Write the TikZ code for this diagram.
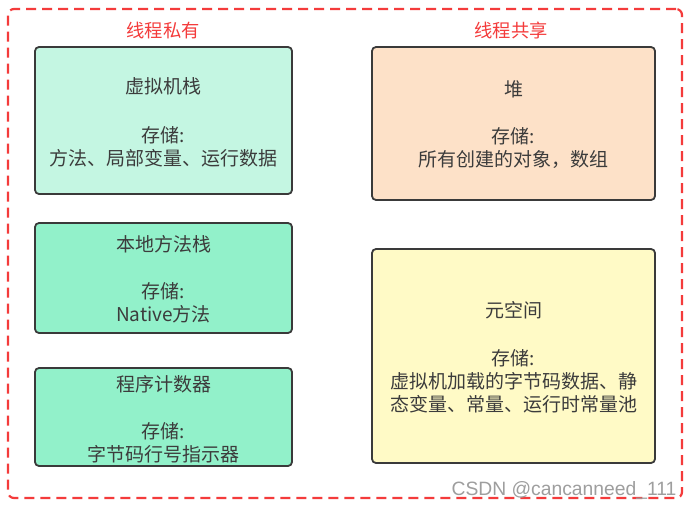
\documentclass[tikz,border=0pt]{standalone}
\usepackage{fontspec}
\setmainfont{Noto Sans CJK SC}
\newfontfamily\wmfont{Liberation Sans}
\definecolor{redline}{HTML}{F43B3B}
\definecolor{edge}{HTML}{3A3A3A}
\definecolor{txt}{HTML}{3C3C3C}
\definecolor{mintA}{HTML}{C4F6E2}
\definecolor{mintB}{HTML}{92F1CA}
\definecolor{peach}{HTML}{FDE1C8}
\definecolor{lemon}{HTML}{FFFAC6}
\begin{document}
\begin{tikzpicture}[x=1pt,y=-1pt,
  box/.style={draw=edge,line width=1.8pt,rounded corners=4pt,inner sep=0pt},
  lbl/.style={text=txt,font=\fontsize{19}{23}\selectfont,align=center,inner sep=0pt},
  head/.style={text=redline,font=\fontsize{18.3}{20}\selectfont,inner sep=0pt}]
\useasboundingbox[fill=white] (0,0) rectangle (692,508);
\node[draw=redline,line width=2.2pt,dash pattern=on 10pt off 6pt,rounded corners=6pt,minimum width=674pt,minimum height=489pt,inner sep=0pt] (outer) at (345,253.5) {};
\node[head] (hp) at (163,31) {线程私有};
\node[head] (hs) at (511,31) {线程共享};
% left column
\node[box,fill=mintA,minimum width=257pt,minimum height=147pt] (vms) at (163.5,120.5) {};
\node[box,fill=mintB,minimum width=257pt,minimum height=110pt] (nms) at (163.5,278) {};
\node[box,fill=mintB,minimum width=257pt,minimum height=98pt] (pc) at (163.5,417) {};
% right column
\node[box,fill=peach,minimum width=283pt,minimum height=153pt] (heap) at (513.5,123.5) {};
\node[box,fill=lemon,minimum width=283pt,minimum height=214pt] (meta) at (513.5,356) {};
% texts
\node[lbl] (vmsT) at (163.5,86) {虚拟机栈};
\node[lbl] (vmsS) at (163.5,146.5) {存储:\\方法、局部变量、运行数据};
\node[lbl] (nmsT) at (163.5,244) {本地方法栈};
\node[lbl] (nmsS) at (163.5,302.5) {存储:\\Native方法};
\node[lbl] (pcT) at (163.5,384) {程序计数器};
\node[lbl] (pcS) at (163.5,443) {存储:\\字节码行号指示器};
\node[lbl] (heapT) at (513.5,89) {堆};
\node[lbl] (heapS) at (513.5,148.5) {存储:\\所有创建的对象，数组};
\node[lbl] (metaT) at (513.5,310) {元空间};
\node[lbl] (metaS) at (513.5,381.5) {存储:\\虚拟机加载的字节码数据、静\\态变量、常量、运行时常量池};
\node[text=black!38,font=\wmfont\fontsize{19.3}{21}\selectfont,inner sep=0pt] (wm) at (564,490) {CSDN @cancanneed\_111};
\end{tikzpicture}
\end{document}
